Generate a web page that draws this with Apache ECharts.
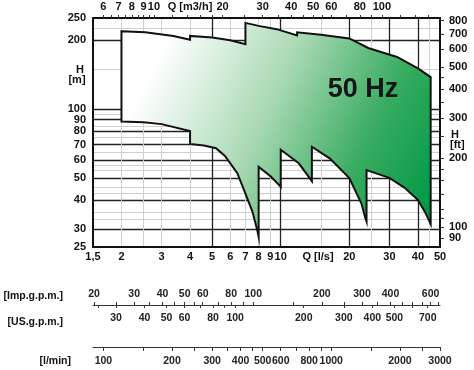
<!DOCTYPE html>
<html><head><meta charset="utf-8">
<script src="https://cdn.jsdelivr.net/npm/echarts@6/dist/echarts.min.js"></script>
<style>html,body{margin:0;padding:0;background:#fff}#c{width:474px;height:370px}</style>
</head><body><div id="c"></div>
<script>
// ---------- data ----------
const qLabels = [1.5, 2, 3, 4, 5, 6, 7, 8, 9, 10, 20, 30, 40, 50];          // Q [l/s]
const qDarkGrid = [5, 10, 20, 30, 40];
const qLightGrid = [2, 2.5, 3, 4, 6, 7, 8, 9, 15, 25, 45];
const m3hLabels = [6, 7, 8, 9, 10, 20, 30, 40, 50, 60, 80, 100];            // Q [m3/h]
const m3hTicks = [6, 6.5, 7, 7.5, 8, 8.5, 9, 9.5, 10, 12, 14, 16, 18, 20, 25, 30, 35, 40, 45, 50, 55, 60, 70, 80, 90, 100, 120, 140, 160];
const hLabels = [25, 30, 40, 50, 60, 70, 80, 90, 100, 200, 250];              // H [m]
const hDarkGrid = [30, 40, 50, 60, 70, 80, 90, 100, 200];
const hLightGrid = [33, 35.5, 43, 45.7, 54, 57, 65, 75, 84, 95, 150, 225];
const ftLabels = [90, 100, 200, 300, 400, 500, 600, 700, 800];               // H [ft]
const ftTicks = [90, 100, 110, 120, 140, 160, 180, 200, 250, 300, 350, 400, 450, 500, 600, 700, 800];
const impLabels = [20, 30, 40, 50, 60, 80, 100, 200, 300, 400, 600];
const impTicks = [20, 25, 30, 35, 40, 45, 50, 55, 60, 70, 80, 90, 100, 150, 200, 250, 300, 350, 400, 450, 500, 550, 600, 650];
const usLabels = [30, 40, 50, 60, 80, 100, 200, 300, 400, 500, 700];
const usTicks = [25, 30, 40, 50, 60, 70, 80, 90, 100, 200, 300, 400, 500, 600, 700];
const lminLabels = [100, 200, 300, 400, 500, 600, 800, 1000, 2000, 3000];
const lminTicks = [100, 150, 200, 250, 300, 350, 400, 450, 500, 600, 700, 800, 900, 1000, 1500, 2000, 2500, 3000];

// envelope of the 50 Hz range: upper edge (left to right) and lower edge (right to left)
const topQ = [2, 2.54, 3.38, 4, 4, 5, 6, 7, 7, 8, 9.6, 11.8, 11.8, 15, 20, 24.2, 32.4, 40, 45.5];
const topH = [219, 216.7, 208.8, 200.7, 208.8, 205.7, 200, 192, 238, 231, 223.5, 210, 216.5, 211, 203.6, 185, 169, 150.5, 138];
const bottomQ = [45.5, 43, 40, 35, 30, 23.8, 23.8, 23.5, 22.6, 20, 16.4, 13.7, 13.7, 12, 10, 10, 9, 8, 8, 7.89, 7.51, 7, 6.45, 5.69, 5.2, 4.6, 4, 4, 3, 2.5, 2];
const bottomH = [31.5, 35.5, 40.1, 45.3, 50.1, 54.2, 32.3, 33.5, 38.7, 50, 61, 68.5, 48.5, 58, 66.5, 45.8, 51, 56, 27.7, 29.6, 35.7, 42.8, 52.5, 62.4, 67.5, 69.3, 70.5, 80.3, 86, 87.7, 88.2];

// unit factors from l/s and m
const M3H = 3.6, IMP = 60 / 4.54609, USG = 60 / 3.785411784, LMIN = 60, FT = 3.28084;
const Q_MIN = 1.5, Q_MAX = 50, H_MIN = 25, H_MAX = 250;

// ---------- chart ----------
const L = Math.log10;
const fmt = v => { const x = Math.round(Math.pow(10, v) * 100) / 100; return String(x).replace('.', ','); };
const FONT = 'Liberation Sans';
const lbl = (size, extra) => Object.assign({ fontFamily: FONT, fontWeight: 'bold', fontSize: size, color: '#111', formatter: fmt, showMinLabel: true, showMaxLabel: true, hideOverlap: false }, extra);
const logs = a => a.map(v => L(v));

const outline = [];
topQ.forEach((q, i) => outline.push([q, topH[i]]));
bottomQ.forEach((q, i) => outline.push([q, bottomH[i]]));

const chart = echarts.init(document.getElementById('c'), null, { renderer: 'canvas' });
const border = { show: true, lineStyle: { color: '#111', width: 2 } };
const noLine = { show: false };

chart.setOption({
  animation: false,
  backgroundColor: '#fff',
  grid: [
    { left: 93, top: 18, width: 347, height: 229 },
    { left: 93, top: 305, width: 347, height: 0 },
    { left: 93, top: 347, width: 347, height: 0 }
  ],
  xAxis: [
    { gridIndex: 0, type: 'value', position: 'bottom', min: L(Q_MIN), max: L(Q_MAX),
      axisLine: noLine, axisLabel: { show: false }, axisTick: { show: false, customValues: logs(qLightGrid) },
      splitLine: { show: true, lineStyle: { color: '#cfcfcf', width: 1 } } },
    { gridIndex: 0, type: 'value', position: 'bottom', min: L(Q_MIN), max: L(Q_MAX),
      axisLine: border, axisTick: { show: false, customValues: logs(qDarkGrid) },
      axisLabel: lbl(11, { margin: 4, customValues: logs(qLabels) }),
      splitLine: { show: true, lineStyle: { color: '#222', width: 1.3 } } },
    { gridIndex: 0, type: 'value', position: 'top', min: L(Q_MIN * M3H), max: L(Q_MAX * M3H),
      axisLine: border, axisTick: { show: true, inside: false, length: 3, customValues: logs(m3hTicks), lineStyle: { color: '#333', width: 1 } },
      axisLabel: lbl(11, { margin: 6, customValues: logs(m3hLabels) }), splitLine: { show: false } },
    { gridIndex: 1, type: 'value', position: 'top', min: L(Q_MIN * IMP), max: L(Q_MAX * IMP),
      axisLine: { show: true, lineStyle: { color: '#333', width: 1 } },
      axisTick: { show: true, length: 3, customValues: logs(impTicks), lineStyle: { color: '#333' } },
      axisLabel: lbl(10.5, { margin: 5, color: '#222', customValues: logs(impLabels) }), splitLine: { show: false } },
    { gridIndex: 1, type: 'value', position: 'bottom', min: L(Q_MIN * USG), max: L(Q_MAX * USG),
      axisLine: noLine,
      axisTick: { show: true, length: 3, customValues: logs(usTicks), lineStyle: { color: '#333' } },
      axisLabel: lbl(10.5, { margin: 8, color: '#222', customValues: logs(usLabels) }), splitLine: { show: false } },
    { gridIndex: 2, type: 'value', position: 'bottom', min: L(Q_MIN * LMIN), max: L(Q_MAX * LMIN),
      axisLine: { show: true, lineStyle: { color: '#333', width: 1 } },
      axisTick: { show: true, length: 4, customValues: logs(lminTicks), lineStyle: { color: '#333' } },
      axisLabel: lbl(10.5, { margin: 9, color: '#222', customValues: logs(lminLabels) }), splitLine: { show: false } }
  ],
  yAxis: [
    { gridIndex: 0, type: 'value', position: 'left', min: L(H_MIN), max: L(H_MAX),
      axisLine: noLine, axisLabel: { show: false }, axisTick: { show: false, customValues: logs(hLightGrid) },
      splitLine: { show: true, lineStyle: { color: '#cfcfcf', width: 1 } } },
    { gridIndex: 0, type: 'value', position: 'left', min: L(H_MIN), max: L(H_MAX),
      axisLine: border, axisTick: { show: false, customValues: logs(hDarkGrid) },
      axisLabel: lbl(11, { margin: 7, customValues: logs(hLabels) }),
      splitLine: { show: true, lineStyle: { color: '#222', width: 1.3 } } },
    { gridIndex: 0, type: 'value', position: 'right', min: L(H_MIN * FT), max: L(H_MAX * FT),
      axisLine: border, axisTick: { show: true, inside: false, length: 4, customValues: logs(ftTicks), lineStyle: { color: '#333' } },
      axisLabel: lbl(11, { margin: 9, customValues: logs(ftLabels.filter(v => v >= 100)) }), splitLine: { show: false } },
    { gridIndex: 0, type: 'value', position: 'right', min: L(H_MIN * FT), max: L(H_MAX * FT),
      axisLine: noLine, axisTick: { show: false },
      axisLabel: lbl(11, { margin: 9, customValues: logs(ftLabels.filter(v => v < 100)) }), splitLine: { show: false } },
    { gridIndex: 1, type: 'value', show: false },
    { gridIndex: 2, type: 'value', show: false }
  ],
  graphic: [
    { type: 'text', x: 190, y: 7, style: { text: 'Q [m3/h]', font: 'bold 11px "Liberation Sans"', fill: '#111', align: 'center', verticalAlign: 'middle' } },
    { type: 'text', x: 318, y: 257, style: { text: 'Q [l/s]', font: 'bold 11px "Liberation Sans"', fill: '#111', align: 'center', verticalAlign: 'middle' } },
    { type: 'text', x: 80, y: 70, style: { text: 'H', font: 'bold 11px "Liberation Sans"', fill: '#111', align: 'center', verticalAlign: 'middle' } },
    { type: 'text', x: 77, y: 80, style: { text: '[m]', font: 'bold 11px "Liberation Sans"', fill: '#111', align: 'center', verticalAlign: 'middle' } },
    { type: 'text', x: 451, y: 135, style: { text: 'H', font: 'bold 11px "Liberation Sans"', fill: '#111', align: 'left', verticalAlign: 'middle' } },
    { type: 'text', x: 450, y: 145, style: { text: '[ft]', font: 'bold 11px "Liberation Sans"', fill: '#111', align: 'left', verticalAlign: 'middle' } },
    { type: 'text', x: 363, y: 90, z: 100, style: { text: '50 Hz', font: 'bold 27px "Liberation Sans"', fill: '#161616', align: 'center', verticalAlign: 'middle' } },
    { type: 'text', x: 63, y: 296, style: { text: '[Imp.g.p.m.]', font: 'bold 10.5px "Liberation Sans"', fill: '#111', align: 'right', verticalAlign: 'middle' } },
    { type: 'text', x: 63, y: 322, style: { text: '[US.g.p.m.]', font: 'bold 10.5px "Liberation Sans"', fill: '#111', align: 'right', verticalAlign: 'middle' } },
    { type: 'text', x: 71, y: 361, style: { text: '[l/min]', font: 'bold 10.5px "Liberation Sans"', fill: '#111', align: 'right', verticalAlign: 'middle' } }
  ],
  series: [{
    type: 'custom', xAxisIndex: 1, yAxisIndex: 1, z: 5,
    data: [[L(10), L(100)]],
    renderItem: (params, api) => {
      const pts = outline.map(p => api.coord([L(p[0]), L(p[1])]));
      return {
        type: 'polygon', shape: { points: pts },
        style: {
          fill: new echarts.graphic.LinearGradient(0, 0.15, 1, 0.85, [
            { offset: 0, color: '#ffffff' }, { offset: 0.1, color: '#ffffff' },
            { offset: 0.45, color: '#a9d9b4' }, { offset: 0.75, color: '#3aac62' }, { offset: 1, color: '#009a44' }
          ]),
          stroke: '#111', lineWidth: 2, lineJoin: 'miter'
        }
      };
    }
  }]
});
</script></body></html>
